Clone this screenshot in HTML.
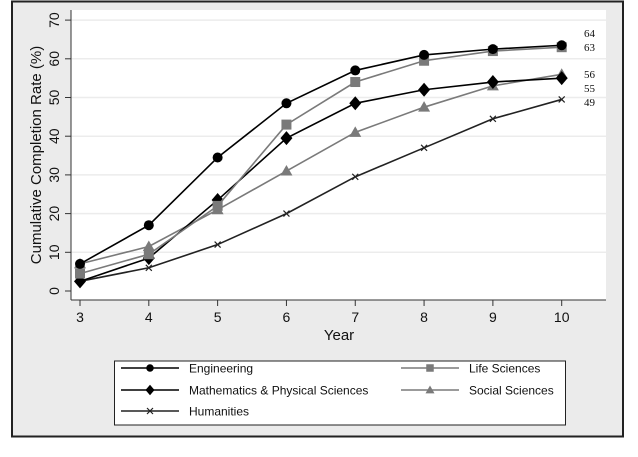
<!DOCTYPE html>
<html><head><meta charset="utf-8"><style>
html,body{margin:0;padding:0;background:#fff;width:638px;height:457px;overflow:hidden}
</style></head><body>
<svg id="s" width="638" height="457" xmlns="http://www.w3.org/2000/svg" font-family="Liberation Sans, sans-serif">
<rect x="12" y="1.5" width="611" height="435" fill="#ebebeb" stroke="#222" stroke-width="2"/>
<rect x="71" y="10" width="535" height="290" fill="#fff"/>
<g id="grid"></g>
<line x1="71" y1="10" x2="71" y2="300" stroke="#333" stroke-width="1"/>
<line x1="71" y1="300" x2="606" y2="300" stroke="#333" stroke-width="1"/>
<g id="ticks"></g>
<text x="339" y="340" font-size="15" text-anchor="middle" fill="#111">Year</text>
<text transform="translate(41,155) rotate(-90)" font-size="15" text-anchor="middle" fill="#111">Cumulative Completion Rate (%)</text>
<g id="series"></g>
<g font-family="Liberation Serif, serif" font-size="11" fill="#111">
<text x="584" y="37">64</text><text x="584" y="51">63</text>
<text x="584" y="78">56</text><text x="584" y="92">55</text><text x="584" y="106">49</text>
</g>
<rect x="114.5" y="361" width="451" height="64" fill="#fff" stroke="#222" stroke-width="1"/>
<g id="leg" font-size="12" fill="#111"></g>
</svg>
<script>
const NS="http://www.w3.org/2000/svg";
function el(p,t,a,txt){const e=document.createElementNS(NS,t);for(const k in a)e.setAttribute(k,a[k]);if(txt!==undefined)e.textContent=txt;p.appendChild(e);return e;}
const X=v=>80+(v-3)*(561.7-80)/7, Y=v=>291-v*3.87;
const g=document.getElementById('grid'),tk=document.getElementById('ticks');
for(let v=0;v<=70;v+=10){
 if(v>0) el(g,'line',{x1:71,x2:606,y1:Y(v),y2:Y(v),stroke:'#ececec','stroke-width':1.5});
 el(tk,'line',{x1:65,x2:71,y1:Y(v),y2:Y(v),stroke:'#333'});
 el(tk,'text',{transform:`translate(59,${Y(v)}) rotate(-90)`,'font-size':14,'text-anchor':'middle',fill:'#111'},v);
}
for(let x=3;x<=10;x++){
 el(tk,'line',{x1:X(x),x2:X(x),y1:300,y2:306,stroke:'#333'});
 el(tk,'text',{x:X(x),y:322,'font-size':14,'text-anchor':'middle',fill:'#111'},x);
}
function mark(p,type,x,y,c,s){
 s=s||1;
 if(type=='c') el(p,'circle',{cx:x,cy:y,r:5*s,fill:c});
 if(type=='s') el(p,'rect',{x:x-5*s,y:y-5*s,width:10*s,height:10*s,fill:c});
 if(type=='d') el(p,'polygon',{points:`${x},${y-7*s} ${x+6*s},${y} ${x},${y+7*s} ${x-6*s},${y}`,fill:c});
 if(type=='t') el(p,'polygon',{points:`${x},${y-6*s} ${x+6*s},${y+4.5*s} ${x-6*s},${y+4.5*s}`,fill:c});
 if(type=='x'){el(p,'path',{d:`M${x-3} ${y-3}L${x+3} ${y+3}M${x-3} ${y+3}L${x+3} ${y-3}`,stroke:c,'stroke-width':1.2});}
}
const S=[
 ['Humanities','x','#222',[2.5,6,12,20,29.5,37,44.5,49.5]],
 ['Social Sciences','t','#7a7a7a',[7,11.5,21,31,41,47.5,53,56]],
 ['Mathematics & Physical Sciences','d','#000',[2.5,8.5,23.5,39.5,48.5,52,54,55]],
 ['Life Sciences','s','#7a7a7a',[4.5,9.5,22,43,54,59.5,62,63]],
 ['Engineering','c','#000',[7,17,34.5,48.5,57,61,62.5,63.5]],
];
const sg=document.getElementById('series');
S.forEach(([n,t,c,d])=>{
 el(sg,'polyline',{points:d.map((v,i)=>X(i+3)+','+Y(v)).join(' '),fill:'none',stroke:c,'stroke-width':1.6});
 d.forEach((v,i)=>mark(sg,t,X(i+3),Y(v),c));
});
const lg=document.getElementById('leg');
const L=[['Engineering','c','#000',121,368],['Life Sciences','s','#7a7a7a',401,368],
 ['Mathematics & Physical Sciences','d','#000',121,390],['Social Sciences','t','#7a7a7a',401,390],
 ['Humanities','x','#222',121,411]];
L.forEach(([n,t,c,x,y])=>{
 el(lg,'line',{x1:x,x2:x+58,y1:y,y2:y,stroke:c,'stroke-width':1.6});
 mark(lg,t,x+29,y,c,0.75);
 el(lg,'text',{x:x+68,y:y+4.5},n);
});
</script>
</body></html>
